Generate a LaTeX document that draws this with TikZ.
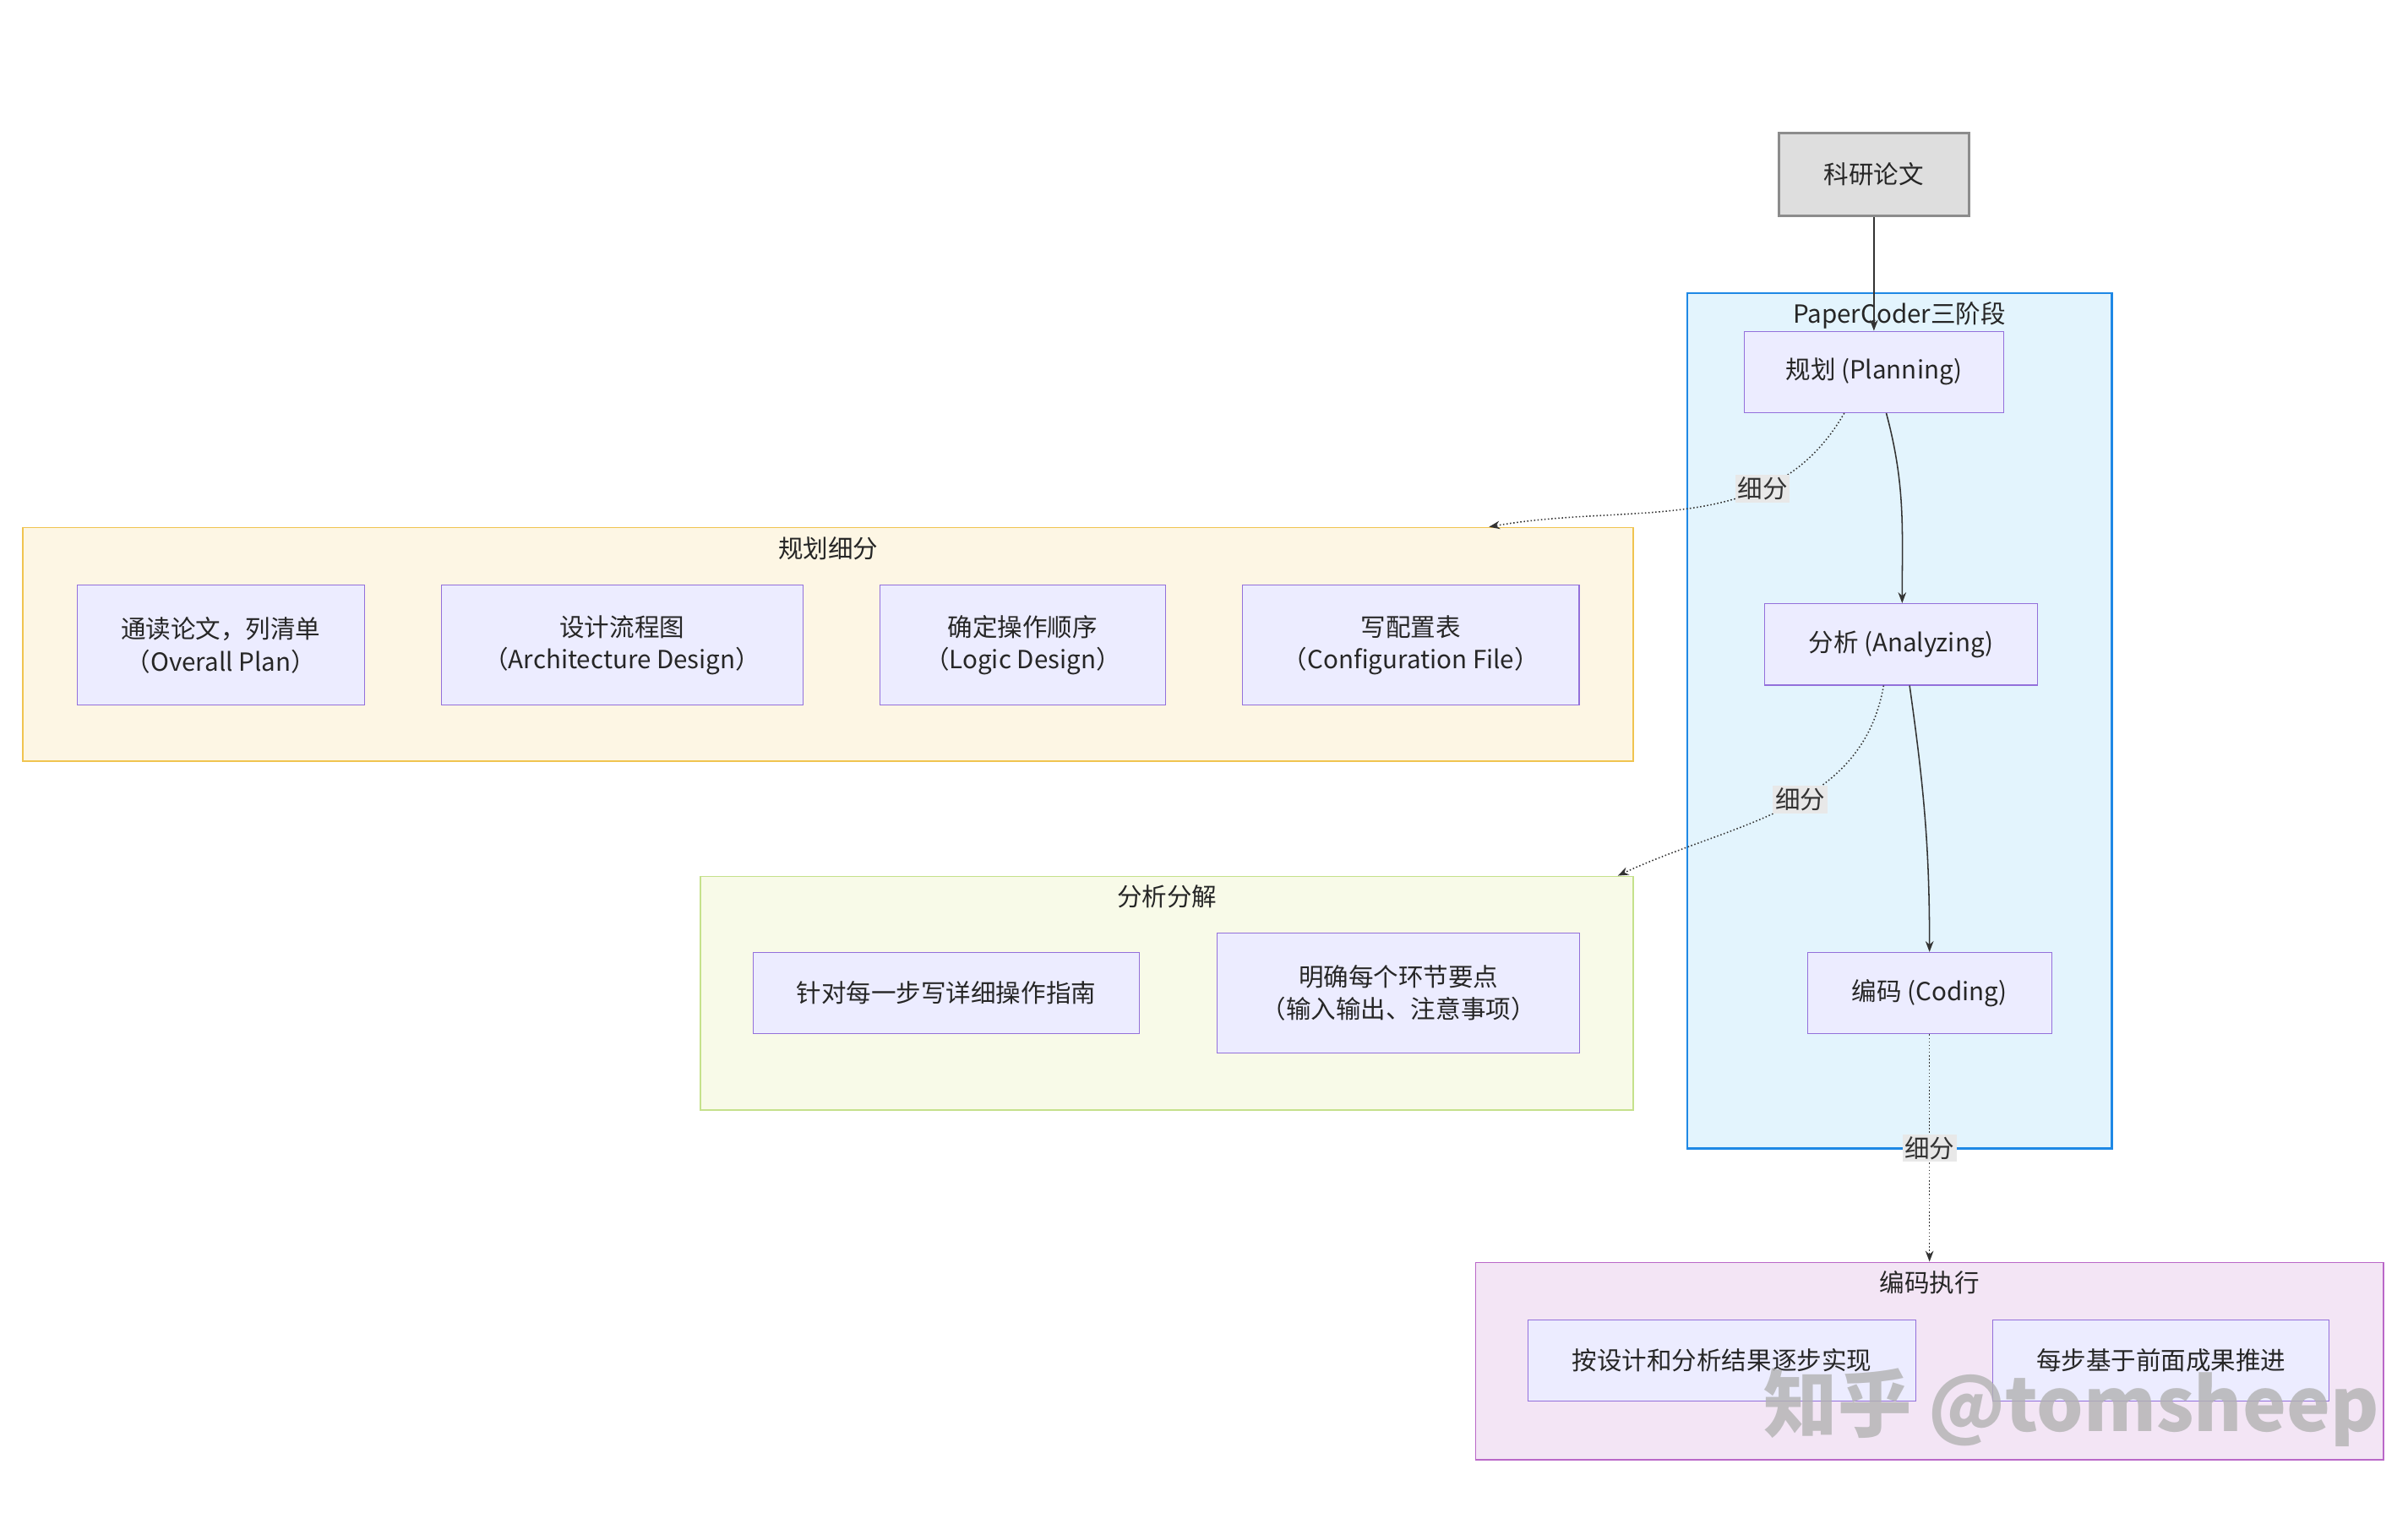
\documentclass[tikz,border=0pt]{standalone}
\usepackage{fontspec}
\setmainfont{Noto Sans CJK SC}
\usetikzlibrary{arrows.meta, positioning}
\definecolor{stepfill}{HTML}{ECECFF}
\definecolor{stepline}{HTML}{9370DB}
\definecolor{labelbg}{HTML}{E8E8E8}
\begin{document}
\begin{tikzpicture} [x=0.025cm, y=-0.025cm,
            font=\fontsize{11.5}{15}\selectfont,
            text=black!85,
            stage/.style = {draw=stepline, fill=stepfill, align=center,
                inner sep=0pt},
            group/.style = {inner sep=0pt, line width=0.7pt},
            title/.style = {anchor=north, inner sep=0pt, yshift=-0.15cm},
            link/.style = {-{Stealth[length=5pt]}, black!80, line width=0.6pt},
            split/.style = {link, densely dotted},
            lbl/.style = {fill=labelbg, inner sep=1pt}]

            \useasboundingbox (0,0) rectangle (1560,980);

            % Source paper
            \node (paper) [draw=black!45, fill=black!13, line width=1.2pt,
                minimum width=3.07cm, minimum height=1.35cm]
                at (1214,113) {科研论文};

            % Stage container
            \node (stages) [group, draw={rgb,255:red,30;green,136;blue,229},
                fill={rgb,255:red,227;green,244;blue,253}, line width=1.1pt,
                minimum width=6.87cm, minimum height=13.85cm] at (1230.5,467) {};
            \node [title] at (stages.north) {PaperCoder三阶段};

            % Stages
            \node (plan) [stage, minimum width=4.2cm, minimum height=1.32cm]
                at (1214,241) {规划 (Planning)};
            \node (analyze) [stage, minimum width=4.42cm, minimum height=1.32cm]
                at (1231.5,417.5) {分析 (Analyzing)};
            \node (code) [stage, minimum width=3.95cm, minimum height=1.32cm]
                at (1250,643.5) {编码 (Coding)};

            % Planning breakdown
            \node (plangrp) [group, draw={rgb,255:red,240;green,196;blue,80},
                fill={rgb,255:red,253;green,246;blue,228},
                minimum width=26.07cm, minimum height=3.78cm] at (536.5,417.5) {};
            \node [title] at (plangrp.north) {规划细分};
            \node (p1) [stage, minimum width=4.65cm, minimum height=1.95cm]
                at (143,418) {通读论文，列清单\\（Overall Plan）};
            \node (p2) [stage, minimum width=5.85cm, minimum height=1.95cm]
                at (403,418) {设计流程图\\（Architecture Design）};
            \node (p3) [stage, minimum width=4.62cm, minimum height=1.95cm]
                at (662.5,418) {确定操作顺序\\（Logic Design）};
            \node (p4) [stage, minimum width=5.45cm, minimum height=1.95cm]
                at (914,418) {写配置表\\（Configuration File）};

            % Analysis breakdown
            \node (anagrp) [group, draw={rgb,255:red,197;green,225;blue,140},
                fill={rgb,255:red,248;green,250;blue,232},
                minimum width=15.1cm, minimum height=3.78cm] at (756,643.5) {};
            \node [title] at (anagrp.north) {分析分解};
            \node (a1) [stage, minimum width=6.25cm, minimum height=1.32cm]
                at (613,643.5) {针对每一步写详细操作指南};
            \node (a2) [stage, minimum width=5.87cm, minimum height=1.95cm]
                at (906,643.5) {明确每个环节要点\\（输入输出、注意事项）};

            % Coding execution
            \node (codegrp) [group, draw={rgb,255:red,186;green,104;blue,200},
                fill={rgb,255:red,243;green,229;blue,245},
                minimum width=14.7cm, minimum height=3.2cm] at (1250,882) {};
            \node [title] at (codegrp.north) {编码执行};
            \node (c1) [stage, minimum width=6.27cm, minimum height=1.32cm]
                at (1115.5,881.5) {按设计和分析结果逐步实现};
            \node (c2) [stage, minimum width=5.45cm, minimum height=1.32cm]
                at (1400,881.5) {每步基于前面成果推进};

            % Watermark
            \node (mark) [text=black!30, font=\fontsize{34}{36}\selectfont\bfseries,
                opacity=0.8] at (1342,912) {知乎 @tomsheep};

            % Arrows
            \draw [link] (paper.south) -- (plan.north);
            \draw [link] ([xshift=0.2cm]plan.south)
                to[out=-75, in=90] ([xshift=0.02cm]analyze.north);
            \draw [link] ([xshift=0.14cm]analyze.south)
                to[out=-82, in=90] (code.north);

            \draw [split] ([xshift=-0.48cm]plan.south)
                to[out=-120, in=10] node[lbl, pos=0.3] {细分}
                ([xshift=10.7cm]plangrp.north);
            \draw [split] ([xshift=-0.28cm]analyze.south)
                to[out=-100, in=25] node[lbl, pos=0.45] {细分}
                ([xshift=7.3cm]anagrp.north);
            \draw [split] (code.south) -- node[lbl] {细分} (codegrp.north);
        \end{tikzpicture}
\end{document}
